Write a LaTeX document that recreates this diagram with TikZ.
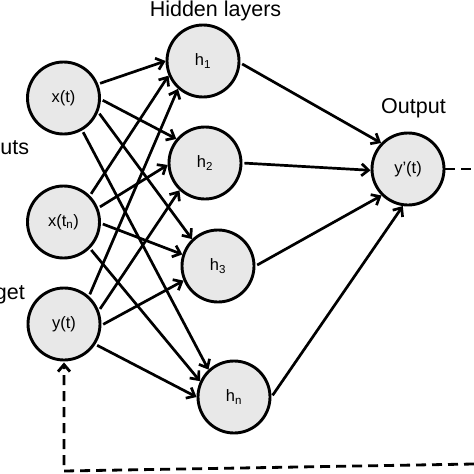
\documentclass[tikz,border=0pt]{standalone}
\usepackage{fontspec}
\setmainfont{Liberation Sans}
\usetikzlibrary{arrows.meta}
\begin{document}
\begin{tikzpicture}[x=1pt,y=-1pt,
  neuron/.style={circle,draw=black,line width=2.9pt,fill=black!9,minimum size=72pt,inner sep=0pt,font=\fontsize{16.5}{19}\selectfont},
  conn/.style={line width=2.7pt,shorten <=2pt,-{Straight Barb[length=7pt,width=12pt]}},
  fb/.style={line width=2.8pt,dash pattern=on 10pt off 6pt},
  title/.style={inner sep=0pt,font=\fontsize{21.5}{25}\selectfont}]
\useasboundingbox (0,0) rectangle (474,474);
\fill[white] (0,0) rectangle (474,474);
% nodes
\node[neuron] (xt) at (63.5,98) {x(t)};
\node[neuron] (xtn) at (63.5,222) {x(t\textsubscript{n})};
\node[neuron] (yt) at (64,324) {y(t)};
\node[neuron] (h1) at (203,61) {h\textsubscript{1}};
\node[neuron] (h2) at (205,163) {h\textsubscript{2}};
\node[neuron] (h3) at (218,266) {h\textsubscript{3}};
\node[neuron] (hn) at (234,397) {h\textsubscript{n}};
\node[neuron] (out) at (408,169) {y’(t)};
% labels
\node[title,anchor=base] (hl) at (215.5,16) {Hidden layers};
\node[title,anchor=base] (ol) at (413.5,113) {Output};
\node[title,anchor=base east] (il) at (29.3,154) {Inputs};
\node[title,anchor=base east] (tl) at (25,299) {Target};
% input -> hidden
\draw[conn] (xt.22) -- (h1.180);
\draw[conn] (xt.-2) -- (h2.140);
\draw[conn] (xt.-22) -- (h3.134);
\draw[conn] (xt.-60) -- (hn.133);
\draw[conn] (xtn.45) -- (h1.203);
\draw[conn] (xtn.22) -- (h2.183);
\draw[conn] (xtn.-2) -- (h3.162);
\draw[conn] (xtn.-45) -- (hn.155);
\draw[conn] (yt.48) -- (h1.228);
\draw[conn] (yt.21) -- (h2.227);
\draw[conn] (yt.-2) -- (h3.203);
\draw[conn] (yt.-33) -- (hn.180);
% hidden -> output
\draw[conn] (h1.-3) -- (out.136);
\draw[conn] (h2.0) -- (out.182);
\draw[conn] (h3.0) -- (out.225);
\draw[conn] (hn.0) -- (out.262);
% feedback
\coordinate (r1) at (474,169);
\coordinate (r2) at (474,464);
\coordinate (c) at (64,471);
\draw[fb] (out.east) -- (r1);
\draw[fb,shorten >=1pt,-{Straight Barb[length=7pt,width=12pt]}] (r2) -- (c) -- (yt.south);
\end{tikzpicture}
\end{document}
